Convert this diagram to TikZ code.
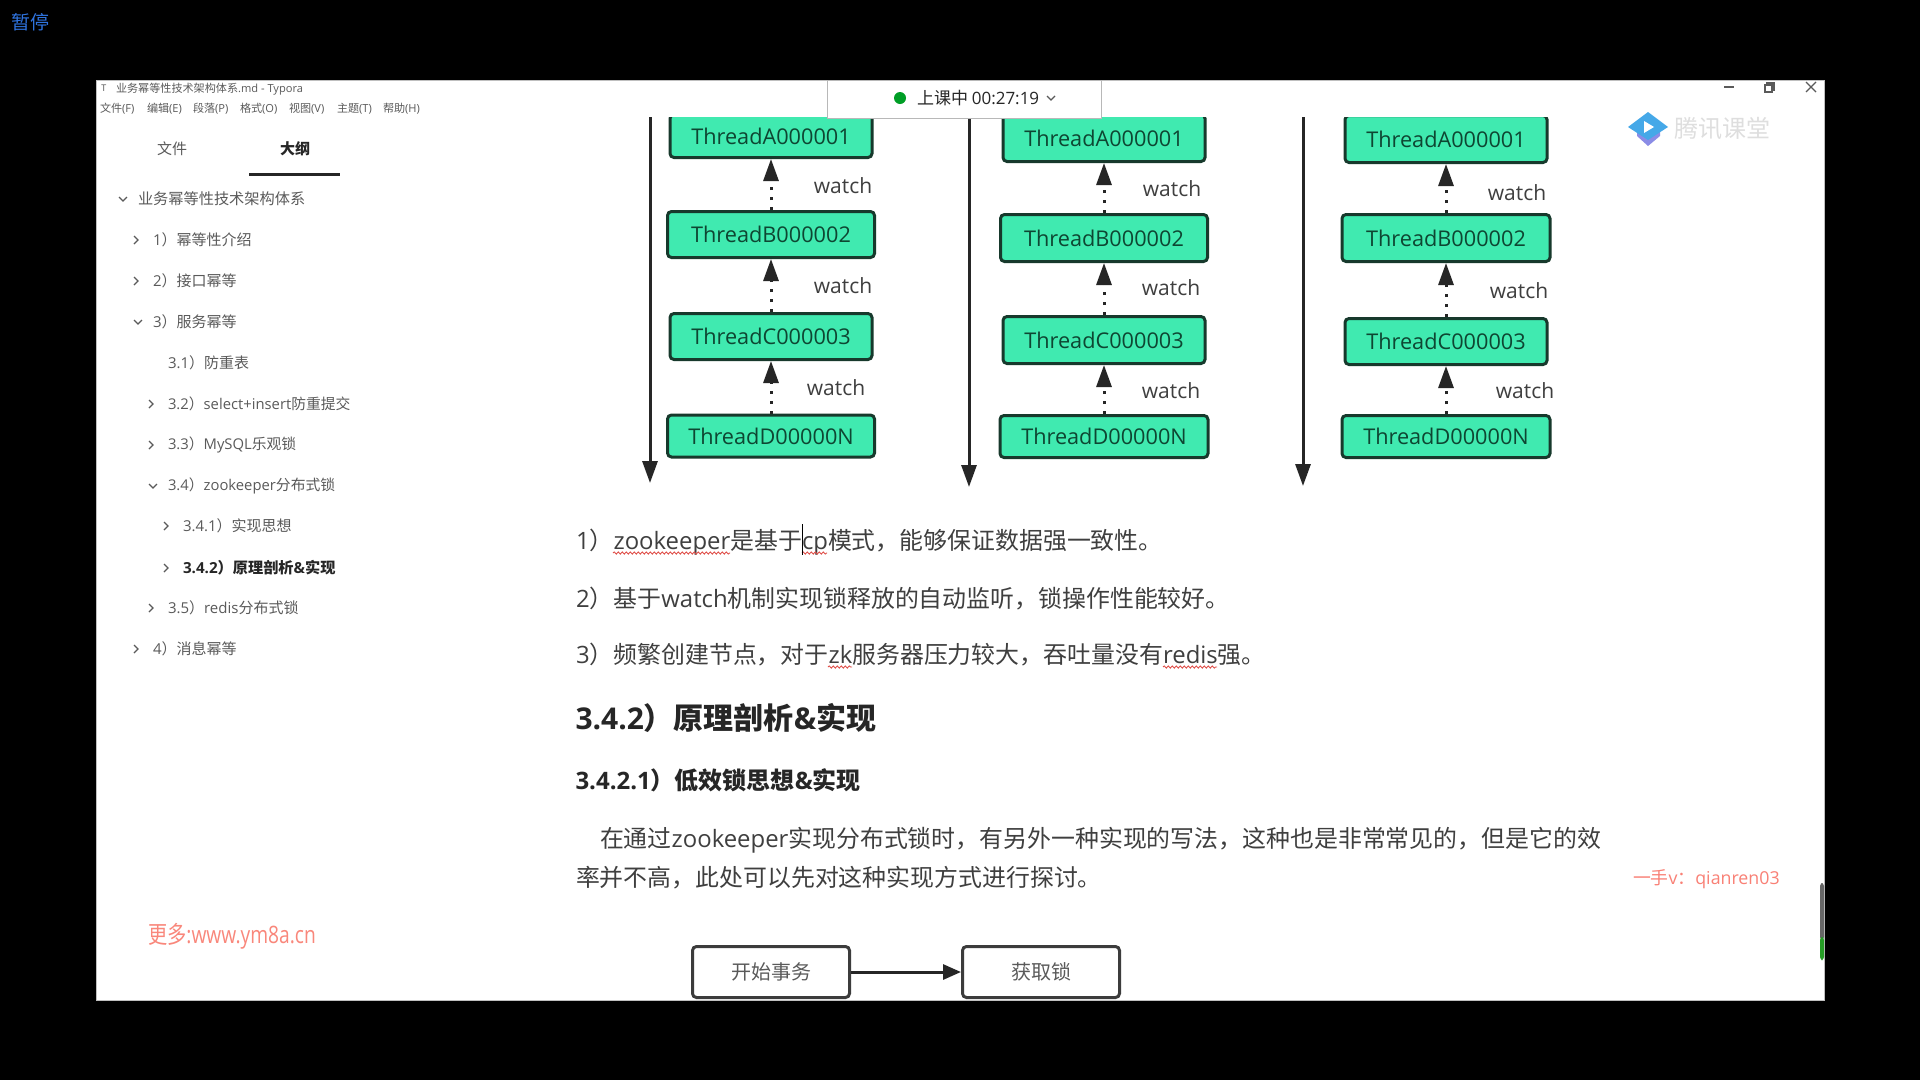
\documentclass[tikz,border=0pt]{standalone}
\usepackage{fontspec}
\setmainfont{Noto Sans CJK SC}
\newfontfamily\latfont{Open Sans}
\newcommand\lat[1]{{\latfont #1}}
\newcommand\fsz[1]{\fontsize{#1}{#1}\selectfont}
\usetikzlibrary{arrows.meta,decorations.pathmorphing}
\definecolor{bodytext}{HTML}{3F3F3F}
\definecolor{sidetext}{HTML}{5A5A5A}
\definecolor{threadfill}{HTML}{40EAB0}
\definecolor{threadline}{HTML}{17392C}
\definecolor{threadtext}{HTML}{0E4632}
\definecolor{inkdark}{HTML}{262626}
\definecolor{salmon}{HTML}{F9877B}
\definecolor{spell}{HTML}{E0504A}
\definecolor{pauseblue}{HTML}{2F74E0}
\definecolor{logoblue}{HTML}{45A8E8}
\definecolor{logopurple}{HTML}{8A8CE6}
\tikzset{
  txt/.style={inner sep=0pt,outer sep=0pt,anchor=west},
  bodyline/.style={txt,text=bodytext,font=\fsz{23.9}},
  sideitem/.style={txt,text=sidetext,font=\fsz{15}},
  menuitem/.style={txt,text=sidetext,font=\fsz{11.1}},
  thread/.style={draw=threadline,fill=threadfill,line width=3pt,rounded corners=4pt,inner sep=0pt,outer sep=1.5pt,text=threadtext,font=\latfont\fsz{21.7},minimum width=#1},
  watchlabel/.style={inner sep=0pt,text=bodytext,font=\latfont\fsz{21}},
  timeaxis/.style={draw=inkdark,line width=3pt,-{Triangle[length=22pt,width=15pt]}},
  watchlink/.style={draw=inkdark,line width=3pt,dash pattern=on 3pt off 7pt,-{Triangle[length=22pt,width=15pt]}},
  flowbox/.style={draw=inkdark!90,fill=white,line width=3pt,rounded corners=4pt,inner sep=0pt,minimum width=157pt,minimum height=51pt,text=sidetext,font=\fsz{20}},
  flowlink/.style={draw=inkdark,line width=3pt,-{Triangle[length=18pt,width=15pt]}},
  chev/.style={draw=sidetext,line width=1.2pt},
  squiggle/.style={draw=spell,line width=.9pt,decorate,decoration={snake,amplitude=1.1pt,segment length=4pt}},
  pics/chevr/.style={code={\draw[chev] (-2,-4) -- (2,0) -- (-2,4);}},
  pics/chevd/.style={code={\draw[chev] (-4,-2) -- (0,2) -- (4,-2);}},
}
\begin{document}
\begin{tikzpicture}[x=1pt,y=-1pt]
\useasboundingbox (0,0) rectangle (1920,1080);
\fill[black] (0,0) rectangle (1920,1080);
\draw[draw=black!25,fill=white,line width=1pt] (96,80) rectangle (1824,1000);

% column 1
\node[thread=202pt,minimum height=43pt] (a1) at (771,136) {ThreadA000001};
\node[thread=207pt,minimum height=46pt] (b1) at (771,234.5) {ThreadB000002};
\node[thread=202pt,minimum height=46pt] (c1) at (771,336.5) {ThreadC000003};
\node[thread=207pt,minimum height=42pt] (d1) at (771,436) {ThreadD00000N};
\draw[watchlink] (b1.north) -- (a1.south);
\draw[watchlink] (c1.north) -- (b1.south);
\draw[watchlink] (d1.north) -- (c1.south);
\node[watchlabel] (w11) at (843,186) {watch};
\node[watchlabel] (w12) at (843,286) {watch};
\node[watchlabel] (w13) at (836,388) {watch};
\coordinate (s1) at (650,117); \coordinate (e1) at (650,483);
\draw[timeaxis] (s1) -- (e1);

% column 2
\node[thread=202pt,minimum height=47pt] (a2) at (1104,138) {ThreadA000001};
\node[thread=207pt,minimum height=47pt] (b2) at (1104,238) {ThreadB000002};
\node[thread=202pt,minimum height=47pt] (c2) at (1104,340) {ThreadC000003};
\node[thread=208pt,minimum height=42pt] (d2) at (1104,436.5) {ThreadD00000N};
\draw[watchlink] (b2.north) -- (a2.south);
\draw[watchlink] (c2.north) -- (b2.south);
\draw[watchlink] (d2.north) -- (c2.south);
\node[watchlabel] (w21) at (1172,189) {watch};
\node[watchlabel] (w22) at (1171,288) {watch};
\node[watchlabel] (w23) at (1171,391) {watch};
\coordinate (s2) at (969,117); \coordinate (e2) at (969,487);
\draw[timeaxis] (s2) -- (e2);

% column 3
\node[thread=202pt,minimum height=47pt] (a3) at (1446,139) {ThreadA000001};
\node[thread=208pt,minimum height=47pt] (b3) at (1446,238) {ThreadB000002};
\node[thread=202pt,minimum height=46pt] (c3) at (1446,341.5) {ThreadC000003};
\node[thread=208pt,minimum height=42pt] (d3) at (1446,436.5) {ThreadD00000N};
\draw[watchlink] (b3.north) -- (a3.south);
\draw[watchlink] (c3.north) -- (b3.south);
\draw[watchlink] (d3.north) -- (c3.south);
\node[watchlabel] (w31) at (1517,193) {watch};
\node[watchlabel] (w32) at (1519,291) {watch};
\node[watchlabel] (w33) at (1525,391) {watch};
\coordinate (s3) at (1303,117); \coordinate (e3) at (1303,486);
\draw[timeaxis] (s3) -- (e3);

% viewport clip at the top of the document area
\fill[white] (520,81) rectangle (1600,117);

% class banner
\draw[draw=black!28,fill=white,line width=1pt] (827,80) rectangle (1101,118);
\fill[green!55!black!85!cyan] (900,98) circle (6);
\node[txt,text=inkdark,font=\fsz{17}] (banner) at (917,98.5) {上课中 \lat{00:27:19}};
\pic at (1051,98) {chevd};

% window chrome
\node[txt,text=sidetext,font=\fsz{9}] (ticon) at (101,88) {T};
\node[menuitem] (title) at (116,89) {业务幂等性技术架构体系\lat{.md - Typora}};
\node[menuitem] (m1) at (100,109) {文件\lat{(F)}};
\node[menuitem] (m2) at (147,109) {编辑\lat{(E)}};
\node[menuitem] (m3) at (193,109) {段落\lat{(P)}};
\node[menuitem] (m4) at (240,109) {格式\lat{(O)}};
\node[menuitem] (m5) at (289,109) {视图\lat{(V)}};
\node[menuitem] (m6) at (337,109) {主题\lat{(T)}};
\node[menuitem] (m7) at (383,109) {帮助\lat{(H)}};
\draw[sidetext,line width=1.2pt] (1724,87) -- (1734,87);
\draw[sidetext,line width=1.2pt] (1765,85) rectangle (1772,92) (1767,85) -- (1767,83) -- (1774,83) -- (1774,90) -- (1772,90);
\draw[sidetext,line width=1.2pt] (1806,82) -- (1816,92) (1816,82) -- (1806,92);

% tencent classroom mark
\fill[logopurple] (1637,130) -- (1660,130) -- (1660,136) -- (1648,146) -- (1637,136) -- cycle;
\fill[logoblue] (1628,127) -- (1648,112) -- (1668,127) -- (1648,140) -- cycle;
\fill[white] (1644,121) -- (1654,127) -- (1644,133) -- cycle;
\node[txt,text=black!13,font=\fsz{24}] (mark) at (1674,129) {腾讯课堂};

% sidebar
\node[txt,text=sidetext,font=\fsz{15}] (tab1) at (157,149) {文件};
\node[txt,text=inkdark,font=\bfseries\fsz{15}] (tab2) at (280,149) {大纲};
\draw[inkdark,line width=3pt] (249,174) -- (340,174);
\pic at (123,199) {chevd};
\node[sideitem,font=\fsz{15.2}] (o0) at (138,199) {业务幂等性技术架构体系};
\pic at (136,240) {chevr};
\node[sideitem] (o1) at (153,240) {\lat{1}）幂等性介绍};
\pic at (136,281) {chevr};
\node[sideitem] (o2) at (153,281) {\lat{2}）接口幂等};
\pic at (138,322) {chevd};
\node[sideitem] (o3) at (153,322) {\lat{3}）服务幂等};
\node[sideitem] (o31) at (168,363) {\lat{3.1}）防重表};
\pic at (151,404) {chevr};
\node[sideitem,font=\fsz{14.8}] (o32) at (168,404) {\lat{3.2}）\lat{select+insert}防重提交};
\pic at (151,445) {chevr};
\node[sideitem,font=\fsz{14.8}] (o33) at (168,445) {\lat{3.3}）\lat{MySQL}乐观锁};
\pic at (153,486) {chevd};
\node[sideitem,font=\fsz{14.8}] (o34) at (168,486) {\lat{3.4}）\lat{zookeeper}分布式锁};
\pic at (166,526) {chevr};
\node[sideitem] (o341) at (183,526) {\lat{3.4.1}）实现思想};
\pic at (166,568) {chevr};
\node[sideitem,text=inkdark,font=\bfseries\fsz{15.2}] (o342) at (183,568) {\lat{3.4.2}）原理剖析\lat{\&}实现};
\pic at (151,608) {chevr};
\node[sideitem] (o35) at (168,608) {\lat{3.5}）\lat{redis}分布式锁};
\pic at (136,649) {chevr};
\node[sideitem] (o4) at (153,649) {\lat{4}）消息幂等};
\node[txt,text=salmon,font=\fsz{24},xscale=.8] (more) at (148,936) {更多\lat{:www.ym8a.cn}};

% document text
\node[bodyline] (l1) at (576,542) {\lat{1}）\lat{zookeeper}是基于\lat{cp}模式，能够保证数据强一致性。};
\node[bodyline] (l2) at (576,599) {\lat{2}）基于\lat{watch}机制实现锁释放的自动监听，锁操作性能较好。};
\node[bodyline] (l3) at (576,655) {\lat{3}）频繁创建节点，对于\lat{zk}服务器压力较大，吞吐量没有\lat{redis}强。};
\draw[squiggle] (613,553) -- (730,553);
\draw[squiggle] (802,553) -- (827,553);
\draw[squiggle] (828,667) -- (852,667);
\draw[squiggle] (1163,667) -- (1217,667);
\draw[black,line width=1pt] (802,524) -- (802,555);
\node[bodyline,text=inkdark,font=\bfseries\fsz{30}] (h1) at (575.5,718) {\lat{3.4.2}）原理剖析\lat{\&}实现};
\node[bodyline,text=inkdark,font=\bfseries\fsz{24}] (h2) at (575.5,780) {\lat{3.4.2.1}）低效锁思想\lat{\&}实现};
\node[bodyline] (p1) at (600,840) {在通过\lat{zookeeper}实现分布式锁时，有另外一种实现的写法，这种也是非常常见的，但是它的效};
\node[bodyline] (p2) at (576,878) {率并不高，此处可以先对这种实现方式进行探讨。};
\node[txt,text=salmon!95!red,font=\fsz{17.8}] (wm) at (1633,879) {一手\lat{v}：\lat{qianren03}};

% flow fragment
\node[flowbox] (f1) at (771,972) {开始事务};
\node[flowbox] (f2) at (1041,972) {获取锁};
\draw[flowlink] (f1.east) -- (f2.west);

% right edge widget
\fill[black!60,rounded corners=3pt] (1820,883) rectangle (1824,940);
\fill[green!55!black!85!white,rounded corners=3pt] (1820,937) rectangle (1824,960);

% bottom mask and pause label
\fill[black] (96,1001) rectangle (1824,1080);
\node[txt,text=pauseblue,font=\fsz{19}] (pause) at (12,22) {暂停};
\end{tikzpicture}
\end{document}
